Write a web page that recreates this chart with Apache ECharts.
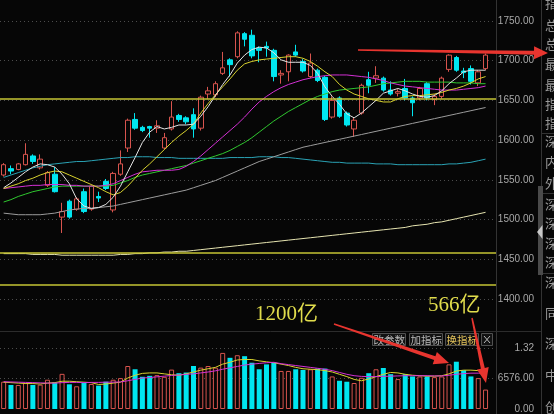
<!DOCTYPE html>
<html>
<head>
<meta charset="utf-8">
<script src="https://cdn.jsdelivr.net/npm/echarts@6.0.0/dist/echarts.min.js"></script>
<style>
  html, body { margin: 0; padding: 0; background: #060606; }
  #main { width: 554px; height: 414px; }
</style>
</head>
<body>
<div id="main"></div>
<script>
// K线数据
var days = Array.from({ length: 68 }, function (_, i) { return String(i + 1); });
var open = [1556,1564,1563,1569,1580,1565,1543,1557,1503,1523,1513,1535,1513,1529,1548,1512,1557,1590,1626,1616,1617,1615,1590,1614,1631,1628,1632,1615,1658,1657,1684,1701,1705,1734,1732,1716,1718,1713,1682,1686,1711,1699,1680,1688,1679,1629,1653,1634,1614,1634,1676,1678,1678,1663,1659,1665,1653,1653,1671,1651,1655,1689,1704,1687,1690,1672,1690];
var close = [1569,1561,1570,1582,1573,1576,1559,1535,1510,1503,1526,1510,1542,1527,1539,1558,1570,1625,1615,1612,1615,1618,1603,1629,1626,1623,1614,1654,1662,1671,1691,1695,1735,1727,1706,1713,1716,1680,1684,1707,1707,1687,1697,1675,1626,1650,1630,1619,1625,1669,1669,1681,1663,1658,1661,1653,1647,1665,1653,1655,1678,1707,1688,1685,1674,1686,1707];
var high = [1571,1568,1571,1596,1582,1582,1561,1566,1521,1525,1528,1539,1544,1535,1551,1560,1587,1627,1634,1618,1618,1625,1609,1649,1633,1630,1640,1656,1667,1674,1711,1703,1737,1736,1739,1718,1724,1715,1688,1708,1720,1702,1709,1690,1681,1655,1655,1636,1628,1671,1686,1693,1680,1674,1664,1677,1655,1667,1673,1658,1680,1708,1706,1691,1694,1688,1709];
var low = [1554,1557,1562,1568,1570,1563,1541,1534,1483,1501,1511,1508,1511,1522,1537,1509,1555,1585,1613,1610,1603,1609,1588,1612,1623,1620,1603,1612,1652,1654,1682,1680,1703,1718,1703,1698,1705,1674,1671,1674,1705,1685,1678,1673,1624,1627,1628,1617,1604,1632,1659,1672,1661,1656,1655,1650,1630,1650,1650,1644,1652,1686,1686,1678,1670,1668,1688];

// 均线
var ma5 = [1540,1546,1553,1560,1566,1570,1569,1566,1557,1545,1526,1517,1514,1515,1519,1528,1542,1560,1578,1597,1610,1617,1614,1616,1619,1619,1620,1630,1642,1656,1670,1682,1697,1707,1714,1717,1716,1710,1701,1698,1698,1698,1694,1684,1667,1655,1645,1633,1628,1634,1642,1650,1659,1662,1665,1662,1658,1655,1654,1656,1662,1671,1678,1686,1688,1688,1688];
var ma10 = [1539,1542,1545,1549,1552,1556,1559,1561,1560,1556,1552,1548,1544,1540,1535,1531,1534,1542,1552,1562,1570,1579,1588,1597,1605,1612,1620,1634,1646,1657,1667,1677,1688,1696,1699,1701,1702,1703,1704,1705,1705,1703,1699,1693,1686,1680,1670,1663,1658,1655,1652,1650,1648,1648,1652,1655,1656,1656,1657,1658,1660,1663,1665,1668,1672,1677,1680];
var ma20 = [1539,1540,1541,1542,1543,1543,1544,1544,1544,1543,1543,1542,1542,1542,1543,1545,1549,1553,1557,1560,1561,1562,1562,1562,1563,1567,1573,1580,1588,1596,1604,1612,1620,1629,1639,1648,1655,1661,1666,1670,1673,1676,1678,1680,1681,1682,1682,1682,1681,1680,1679,1677,1675,1672,1670,1668,1667,1666,1665,1664,1663,1663,1663,1664,1665,1666,1668];
var ma30 = [1522,1525,1529,1532,1535,1537,1539,1541,1542,1542,1542,1542,1542,1542,1542,1543,1546,1549,1553,1556,1558,1560,1562,1564,1566,1568,1571,1574,1577,1580,1583,1587,1592,1597,1603,1610,1617,1624,1630,1636,1641,1646,1651,1655,1658,1661,1663,1664,1665,1666,1667,1669,1671,1672,1673,1674,1674,1674,1673,1673,1673,1673,1672,1672,1672,1671,1671];
var ma60 = [1508,1507,1506,1506,1506,1506,1507,1508,1510,1512,1513,1514,1514,1515,1516,1517,1519,1521,1523,1525,1527,1529,1531,1533,1535,1537,1540,1543,1546,1549,1553,1557,1561,1565,1569,1573,1576,1579,1582,1585,1588,1591,1593,1595,1597,1599,1601,1603,1605,1607,1609,1611,1613,1615,1617,1619,1621,1623,1625,1627,1629,1631,1633,1635,1637,1639,1641];
var ma120 = [1553,1556,1559,1562,1565,1567,1569,1570,1571,1572,1573,1573,1574,1575,1576,1577,1578,1578,1579,1579,1579,1578,1578,1578,1577,1577,1577,1577,1577,1577,1577,1578,1578,1578,1578,1579,1579,1579,1578,1578,1577,1576,1575,1574,1573,1572,1572,1571,1571,1571,1571,1570,1570,1570,1569,1569,1569,1569,1569,1569,1569,1570,1570,1571,1572,1574,1576];
var ma250 = [1457,1457,1457,1457,1456,1456,1456,1456,1455,1455,1455,1455,1455,1455,1455,1455,1456,1456,1457,1457,1458,1458,1459,1459,1460,1460,1461,1462,1463,1464,1465,1466,1467,1468,1469,1470,1471,1472,1473,1474,1475,1476,1477,1478,1479,1480,1481,1482,1483,1484,1485,1486,1487,1488,1489,1490,1492,1493,1494,1496,1497,1499,1501,1503,1505,1507,1509];
var hLines = [1652, 1458.5, 1418];

// 成交量
var volume = [5903,5196,5196,5621,5196,5267,6327,5762,7600,5338,4914,5621,5409,5055,5903,6327,6681,9297,8590,6964,7176,7318,6964,8519,7742,7883,9297,8944,9297,8944,12125,11065,11630,11418,10004,8590,9651,10004,8229,8229,8590,8442,8590,8739,8739,7042,6108,5896,5621,6745,7742,8590,8866,7530,6469,7530,7042,7042,7042,6893,7042,9651,10223,8378,7042,6681,4200];
var vma5 = [5800,5700,5600,5500,5500,5400,5600,5700,6000,6000,5900,5800,5700,5300,5400,5600,5800,6700,7300,7700,7800,7800,7600,7400,7300,7600,8000,8400,8700,9000,9700,10100,10600,10700,10700,10400,10200,10000,9700,9400,9000,8700,8600,8500,8300,8000,7500,7000,6400,6100,6500,7000,7500,7900,7800,7500,7300,7200,7100,7100,7200,7600,8200,8400,8400,8300,8000];
var vma10 = [5900,5850,5800,5750,5700,5650,5600,5600,5700,5750,5750,5700,5750,5750,5800,5800,5850,6100,6400,6700,6800,6950,7100,7250,7350,7500,7600,7800,8000,8250,8600,8900,9200,9500,9700,9850,10000,10100,9800,9600,9400,9200,9000,8800,8600,8300,7900,7500,7200,7050,7000,7000,7050,7100,7150,7200,7200,7200,7200,7150,7150,7300,7500,7650,7750,7750,7700];
var volTicks = [0, 6576, 13152];
var volTickLabels = ['0.00', '6576.00', '1.32'];

// 右侧面板文字
var sideChars = [['指',3],['总',25],['总',44],['最',64],['最',85],['指',104],['指',123],['深',141],['内',162],['外',183],['深',204],['深',223],['深',243],['深',262],['深',282],['同',313],['深',343],['中',375],['创',407]];
var buttons = [['改参数',372],['加指标',409],['换指标',445]];

var RED = '#d8544e';
var CYAN = '#00e6f0';

var kData = open.map(function (o, i) { return [o, close[i], low[i], high[i]]; });
var volData = volume.map(function (v, i) {
  var up = close[i] >= open[i];
  return {
    value: v,
    itemStyle: up ? { color: '#060606', borderColor: RED, borderWidth: 1 } : { color: CYAN, borderWidth: 0 }
  };
});

function maLine(name, data, color) {
  return {
    name: name, type: 'line', data: data, showSymbol: false, silent: true, z: 4,
    lineStyle: { color: color, width: 1 }
  };
}

function arrowPts(x1, y1, x2, y2, w1, w2, hl, hw) {
  var dx = x2 - x1, dy = y2 - y1, L = Math.hypot(dx, dy);
  var ux = dx / L, uy = dy / L, nx = -uy, ny = ux;
  var bx = x2 - ux * hl, by = y2 - uy * hl;
  return [
    [x1 + nx * w1 / 2, y1 + ny * w1 / 2],
    [bx + nx * w2 / 2, by + ny * w2 / 2],
    [bx + nx * hw, by + ny * hw],
    [x2, y2],
    [bx - nx * hw, by - ny * hw],
    [bx - nx * w2 / 2, by - ny * w2 / 2],
    [x1 - nx * w1 / 2, y1 - ny * w1 / 2]
  ];
}

var graphics = [
  { type: 'line', z: 50, shape: { x1: 496.5, y1: 0, x2: 496.5, y2: 414 }, style: { stroke: '#333', lineWidth: 1 } },
  { type: 'line', z: 50, shape: { x1: 541.5, y1: 0, x2: 541.5, y2: 414 }, style: { stroke: '#333', lineWidth: 1 } },
  { type: 'line', z: 50, shape: { x1: 0, y1: 331.5, x2: 541, y2: 331.5 }, style: { stroke: '#2c2c2c', lineWidth: 1 } },
  { type: 'line', z: 50, shape: { x1: 542, y1: 133.5, x2: 554, y2: 133.5 }, style: { stroke: '#333', lineWidth: 1 } },
  { type: 'line', z: 50, shape: { x1: 542, y1: 193.5, x2: 554, y2: 193.5 }, style: { stroke: '#333', lineWidth: 1 } },
  { type: 'line', z: 50, shape: { x1: 542, y1: 273.5, x2: 554, y2: 273.5 }, style: { stroke: '#333', lineWidth: 1 } },
  { type: 'rect', z: 51, shape: { x: 538, y: 186, width: 5, height: 89 }, style: { fill: '#4a4a4a' } },
  { type: 'polygon', z: 52, shape: { points: [[542.5, 225], [537, 232], [542.5, 239]] }, style: { fill: '#c8c8c8' } }
];

sideChars.forEach(function (c) {
  graphics.push({
    type: 'text', z: 50, x: 545, y: c[1],
    style: { text: c[0], fill: '#9a9a9a', font: '13px "Noto Sans CJK SC"', verticalAlign: 'middle' }
  });
});

buttons.forEach(function (b, i) {
  graphics.push({ type: 'rect', z: 60, shape: { x: b[1] + 0.5, y: 333.5, width: 33, height: 12 }, style: { fill: '#121212', stroke: '#505050', lineWidth: 1 } });
  graphics.push({
    type: 'text', z: 61, x: b[1] + 1.5, y: 340,
    style: { text: b[0], fill: i === 2 ? '#e2c25a' : '#b8b8b8', font: '10.5px "Noto Sans CJK SC"', verticalAlign: 'middle' }
  });
});
graphics.push({ type: 'rect', z: 60, shape: { x: 481.5, y: 333.5, width: 11, height: 12 }, style: { fill: '#121212', stroke: '#505050', lineWidth: 1 } });
graphics.push({ type: 'line', z: 61, shape: { x1: 484, y1: 336, x2: 490, y2: 343 }, style: { stroke: '#b8b8b8', lineWidth: 1 } });
graphics.push({ type: 'line', z: 61, shape: { x1: 490, y1: 336, x2: 484, y2: 343 }, style: { stroke: '#b8b8b8', lineWidth: 1 } });

// 标注文字与箭头
graphics.push({ type: 'text', z: 90, x: 255, y: 314, style: { text: '1200亿', fill: '#e0dc4c', font: '21px "Liberation Serif", "Noto Sans CJK SC"', verticalAlign: 'middle' } });
graphics.push({ type: 'text', z: 90, x: 428, y: 305, style: { text: '566亿', fill: '#e0dc4c', font: '21px "Liberation Serif", "Noto Sans CJK SC"', verticalAlign: 'middle' } });
graphics.push({ type: 'polygon', z: 95, shape: { points: arrowPts(358, 50, 548, 53, 1.5, 4, 14, 6.5) }, style: { fill: '#e8352f' } });
graphics.push({ type: 'polygon', z: 95, shape: { points: arrowPts(334, 324, 449, 363, 1.5, 4, 15, 6.5) }, style: { fill: '#e8352f' } });
graphics.push({ type: 'polygon', z: 95, shape: { points: arrowPts(472, 318, 486, 383, 1.5, 4, 15, 6) }, style: { fill: '#e8352f' } });

var chart = echarts.init(document.getElementById('main'));
chart.setOption({
  backgroundColor: '#060606',
  animation: false,
  grid: [
    { left: 0, width: 496.5, top: 0, height: 338.6 },
    { left: 0, width: 496.5, top: 331.7, height: 78.8 }
  ],
  xAxis: [
    { type: 'category', data: days, gridIndex: 0, boundaryGap: true, axisLine: { show: false }, axisTick: { show: false }, axisLabel: { show: false }, splitLine: { show: false } },
    { type: 'category', data: days, gridIndex: 1, boundaryGap: true, axisLine: { show: false }, axisTick: { show: false }, axisLabel: { show: false }, splitLine: { show: false } }
  ],
  yAxis: [
    {
      type: 'value', gridIndex: 0, position: 'right', min: 1350, max: 1776.4, interval: 50,
      axisLine: { show: false }, axisTick: { show: false },
      axisLabel: {
        color: '#a8a8a8', fontSize: 10, fontFamily: 'Liberation Sans', align: 'right', margin: 37.5,
        showMinLabel: false, showMaxLabel: false,
        formatter: function (v) { return v.toFixed(2); }
      },
      splitLine: { show: true, showMinLine: false, showMaxLine: false, lineStyle: { color: '#4c4c4c', type: [1, 3], width: 1 } }
    },
    {
      type: 'value', gridIndex: 1, position: 'right', min: 0, max: 16713, interval: 6576,
      axisLine: { show: false }, axisTick: { show: false },
      axisLabel: {
        color: '#a8a8a8', fontSize: 10, fontFamily: 'Liberation Sans', align: 'right', margin: 37.5,
        showMaxLabel: false,
        formatter: function (v) {
          var k = volTicks.indexOf(v);
          return k >= 0 ? volTickLabels[k] : '';
        }
      },
      splitLine: { show: true, showMinLine: false, showMaxLine: false, lineStyle: { color: '#4c4c4c', type: [1, 3], width: 1 } }
    }
  ],
  series: [
    {
      name: 'K', type: 'candlestick', data: kData, barWidth: 5, z: 3,
      itemStyle: { color: '#060606', color0: CYAN, borderColor: RED, borderColor0: CYAN, borderWidth: 1 },
      markLine: {
        silent: true, symbol: 'none', label: { show: false },
        lineStyle: { color: '#c6c434', width: 1.6, type: 'solid' },
        data: hLines.map(function (v) { return { yAxis: v }; })
      }
    },
    maLine('MA250', ma250, '#e6e4b0'),
    maLine('MA120', ma120, '#2aa2b4'),
    maLine('MA60', ma60, '#9c9c9c'),
    maLine('MA30', ma30, '#2fc82f'),
    maLine('MA20', ma20, '#d430d4'),
    maLine('MA10', ma10, '#d8d22e'),
    maLine('MA5', ma5, '#e4e4e4'),
    { name: 'VOL', type: 'bar', xAxisIndex: 1, yAxisIndex: 1, data: volData, barWidth: 5, z: 3 },
    { name: 'VMA5', type: 'line', xAxisIndex: 1, yAxisIndex: 1, data: vma5, showSymbol: false, z: 4, lineStyle: { color: '#d8d22e', width: 1 } },
    { name: 'VMA10', type: 'line', xAxisIndex: 1, yAxisIndex: 1, data: vma10, showSymbol: false, z: 4, lineStyle: { color: '#d430d4', width: 1 } }
  ],
  graphic: graphics
});
</script>
</body>
</html>
